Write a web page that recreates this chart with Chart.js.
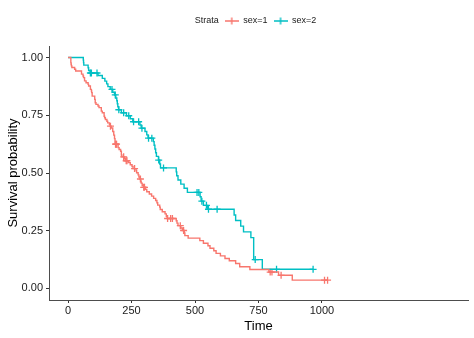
<!DOCTYPE html>
<html>
<head>
<meta charset="utf-8">
<script src="https://cdn.jsdelivr.net/npm/chart.js@4.4.1/dist/chart.umd.min.js"></script>
<style>
  html, body { margin: 0; padding: 0; background: #ffffff; }
  #wrap { width: 474px; height: 338px; }
</style>
</head>
<body>
<div id="wrap"><canvas id="kmChart"></canvas></div>
<script>
// Kaplan-Meier steps (time in days, survival probability)
const maleTime = [0, 11, 12, 13, 15, 26, 30, 53, 59, 61, 65, 71, 79, 81, 88, 92, 93, 95, 105, 107, 110, 118, 122, 131, 135, 142, 144, 147, 153, 156, 163, 166, 170, 176, 180, 183, 185, 186, 197, 201, 207, 210, 212, 223, 226, 237, 245, 252, 256, 268, 270, 276, 279, 283, 286, 288, 292, 296, 305, 310, 320, 329, 337, 345, 350, 353, 361, 363, 371, 382, 387, 390, 426, 429, 433, 444, 450, 458, 460, 473, 519, 533, 551, 559, 574, 583, 600, 618, 635, 660, 676, 716, 791, 829, 883, 1022];
const maleSurv = [1, 0.978, 0.971, 0.964, 0.957, 0.949, 0.942, 0.928, 0.920, 0.913, 0.899, 0.891, 0.884, 0.877, 0.862, 0.855, 0.848, 0.833, 0.819, 0.804, 0.797, 0.790, 0.783, 0.768, 0.761, 0.746, 0.739, 0.732, 0.724, 0.717, 0.710, 0.703, 0.695, 0.680, 0.664, 0.649, 0.633, 0.625, 0.610, 0.602, 0.594, 0.578, 0.570, 0.562, 0.553, 0.545, 0.536, 0.528, 0.519, 0.510, 0.501, 0.492, 0.483, 0.474, 0.465, 0.456, 0.447, 0.438, 0.429, 0.419, 0.409, 0.400, 0.390, 0.381, 0.371, 0.361, 0.352, 0.342, 0.332, 0.323, 0.313, 0.303, 0.293, 0.283, 0.272, 0.262, 0.251, 0.240, 0.229, 0.218, 0.207, 0.196, 0.185, 0.174, 0.163, 0.152, 0.141, 0.130, 0.120, 0.108, 0.094, 0.082, 0.071, 0.057, 0.036, 0.036];
const maleCensor = [167, 187, 189, 191, 219, 229, 232, 262, 285, 298, 301, 392, 404, 411, 442, 455, 796, 803, 839, 1010, 1022];

const femaleTime = [0, 60, 61, 62, 79, 81, 87, 118, 135, 145, 152, 157, 166, 176, 183, 188, 192, 194, 196, 199, 210, 230, 245, 255, 283, 288, 303, 310, 315, 336, 339, 342, 345, 348, 356, 361, 364, 426, 428, 433, 444, 457, 470, 520, 524, 533, 550, 654, 660, 680, 691, 720, 731, 765, 965];
const femaleSurv = [1, 0.989, 0.978, 0.967, 0.956, 0.944, 0.933, 0.922, 0.910, 0.898, 0.886, 0.874, 0.862, 0.850, 0.838, 0.825, 0.813, 0.800, 0.787, 0.774, 0.761, 0.748, 0.735, 0.722, 0.708, 0.694, 0.680, 0.665, 0.651, 0.636, 0.620, 0.604, 0.588, 0.572, 0.556, 0.539, 0.522, 0.505, 0.488, 0.470, 0.452, 0.434, 0.416, 0.397, 0.378, 0.360, 0.343, 0.318, 0.294, 0.270, 0.245, 0.220, 0.125, 0.083, 0.083];
const femaleCensor = [88, 92, 114, 173, 186, 200, 219, 239, 258, 278, 291, 317, 330, 357, 376, 508, 515, 527, 545, 553, 587, 737, 821, 965];

const strataLabels = ['sex=1', 'sex=2'];
const xBreaks = [0, 250, 500, 750, 1000];
const yBreaks = [0, 0.25, 0.5, 0.75, 1];

const redCol = '#F8766D';
const tealCol = '#00BFC4';
const textCol = '#1a1a1a';
Chart.defaults.font.family = '"Liberation Sans", Arial, sans-serif';

function stepPoints(times, survs) {
  return times.map((t, i) => ({ x: t, y: survs[i] }));
}

// survival value of the curve at a censor time
function survAt(times, survs, t) {
  let s = survs[0];
  for (let i = 0; i < times.length; i++) {
    if (times[i] <= t) s = survs[i];
  }
  return s;
}

function censorPoints(censor, times, survs) {
  return censor.map(t => ({ x: t, y: survAt(times, survs, t) }));
}

// small "line with a plus" legend key, like the ggplot key
function legendKey(color) {
  const c = document.createElement('canvas');
  c.width = 14;
  c.height = 8;
  const g = c.getContext('2d');
  g.strokeStyle = color;
  g.lineWidth = 1.4;
  g.beginPath();
  g.moveTo(0, 4);
  g.lineTo(14, 4);
  g.moveTo(7, 0.5);
  g.lineTo(7, 7.5);
  g.stroke();
  return c;
}
const blankKey = document.createElement('canvas');
blankKey.width = 1;
blankKey.height = 1;

const keys = [legendKey(redCol), legendKey(tealCol)];

const config = {
  type: 'scatter',
  data: {
    datasets: [{
      label: strataLabels[0],
      data: stepPoints(maleTime, maleSurv),
      showLine: true,
      stepped: true,
      borderColor: redCol,
      borderWidth: 1.4,
      pointRadius: 0,
    }, {
      label: strataLabels[1],
      data: stepPoints(femaleTime, femaleSurv),
      showLine: true,
      stepped: true,
      borderColor: tealCol,
      borderWidth: 1.4,
      pointRadius: 0,
    }, {
      label: strataLabels[0] + ' censored',
      data: censorPoints(maleCensor, maleTime, maleSurv),
      pointStyle: 'cross',
      pointRadius: 3.5,
      pointBorderWidth: 1.3,
      borderColor: redCol,
      backgroundColor: redCol,
    }, {
      label: strataLabels[1] + ' censored',
      data: censorPoints(femaleCensor, femaleTime, femaleSurv),
      pointStyle: 'cross',
      pointRadius: 3.5,
      pointBorderWidth: 1.3,
      borderColor: tealCol,
      backgroundColor: tealCol,
    }]
  },
  options: {
    responsive: true,
    maintainAspectRatio: false,
    animation: false,
    layout: {
      padding: { top: 10.5, right: 6, left: 0, bottom: 0 }
    },
    plugins: {
      tooltip: { enabled: false },
      legend: {
        position: 'top',
        fullSize: false,
        labels: {
          usePointStyle: true,
          pointStyleWidth: 14,
          padding: 6,
          color: textCol,
          font: { size: 9 },
          generateLabels: function(chart) {
            const items = [{ text: 'Strata', pointStyle: blankKey, fontColor: textCol, hidden: false, lineWidth: 0 }];
            strataLabels.forEach((s, i) => {
              items.push({ text: s, pointStyle: keys[i], fontColor: textCol, hidden: false, lineWidth: 0, datasetIndex: i });
            });
            // empty trailing item balances the blank key in front of "Strata"
            items.push({ text: '', pointStyle: blankKey, fontColor: textCol, hidden: false, lineWidth: 0 });
            return items;
          }
        }
      }
    },
    scales: {
      x: {
        type: 'linear',
        min: -75,
        max: 1575,
        afterBuildTicks: s => { s.ticks = xBreaks.map(v => ({ value: v })); },
        afterFit: s => { s.height = 38; },
        grid: { display: true, drawOnChartArea: false, drawTicks: true, tickLength: 3, color: '#333333' },
        border: { display: true, color: '#4d4d4d', width: 1 },
        ticks: { color: textCol, padding: 1, font: { size: 11 }, maxRotation: 0, callback: v => String(v) },
        title: { display: true, text: 'Time', color: '#000000', font: { size: 13 }, padding: { top: 0, bottom: 4 } }
      },
      y: {
        type: 'linear',
        min: -0.05,
        max: 1.05,
        afterBuildTicks: s => { s.ticks = yBreaks.map(v => ({ value: v })); },
        afterFit: s => { s.width = 49; },
        grid: { display: true, drawOnChartArea: false, drawTicks: true, tickLength: 3, color: '#333333' },
        border: { display: true, color: '#4d4d4d', width: 1 },
        ticks: { color: textCol, padding: 3, font: { size: 11 }, callback: v => v.toFixed(2) },
        title: { display: true, text: 'Survival probability', color: '#000000', font: { size: 13 }, padding: { top: 6, bottom: 0 } }
      },
      // empty box that keeps the gap between the legend and the panel
      gap: {
        type: 'linear',
        position: 'top',
        display: true,
        grid: { display: false },
        border: { display: false },
        ticks: { display: false },
        afterFit: s => { s.height = 10.5; }
      }
    }
  }
};

const myChart = new Chart(document.getElementById('kmChart'), config);
</script>
</body>
</html>
